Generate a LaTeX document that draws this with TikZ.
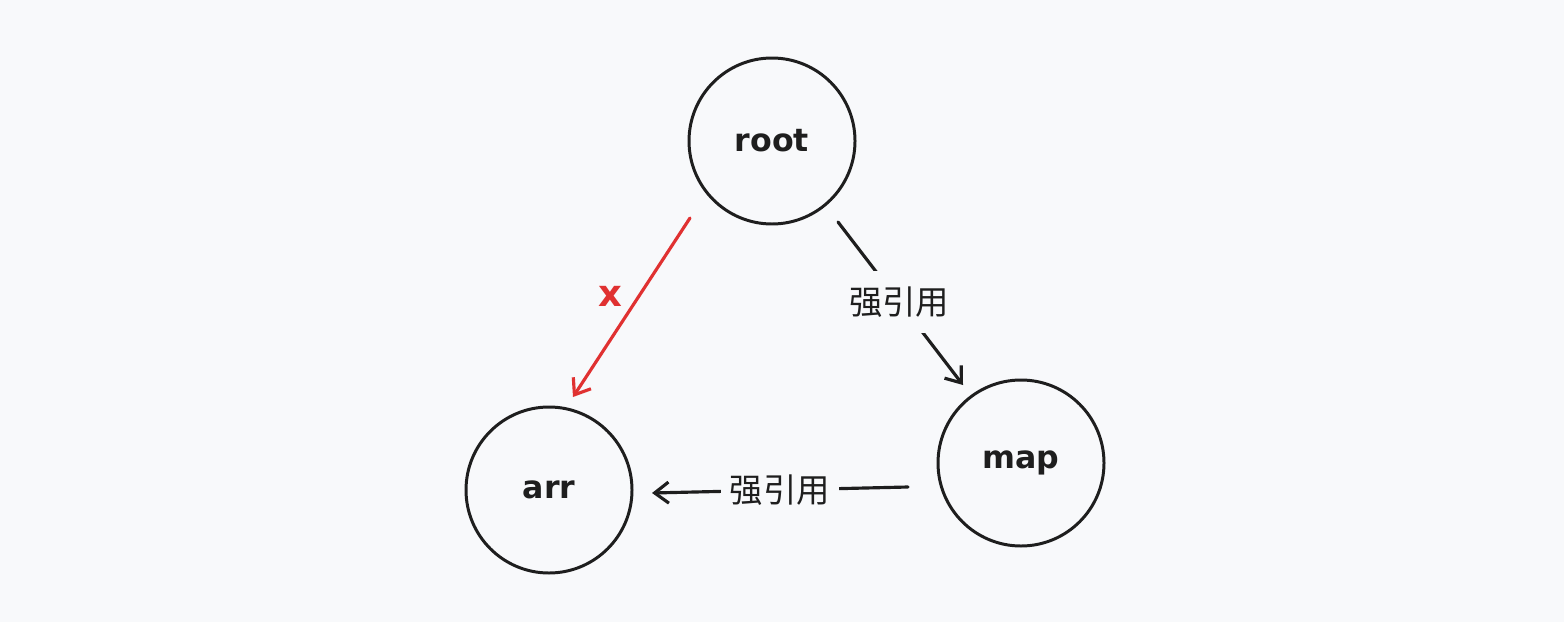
\documentclass[tikz,border=0pt]{standalone}
\usepackage{fontspec}
\setmainfont{DejaVu Sans}
\newfontfamily\cjk{Noto Sans CJK SC}
\usepackage{xcolor}
\usetikzlibrary{arrows.meta, positioning}

\definecolor{bgcol}{HTML}{F8F9FB}
\definecolor{inkcol}{HTML}{1E1E1E}
\definecolor{redcol}{HTML}{E03131}

\begin{document}
\begin{tikzpicture}[
  x=0.02cm, y=-0.02cm,
  obj/.style={circle, draw=inkcol, line width=1.7pt, minimum size=166*0.02cm, inner sep=0pt, font=\bfseries\fontsize{18}{20}\selectfont, text=inkcol},
  ref/.style={fill=bgcol, inner xsep=5pt, inner ysep=9pt, font=\cjk\fontsize{19}{21}\selectfont, text=inkcol},
  arrow/.style={-{Straight Barb[length=8pt, width=12pt, line width=1.8pt]}, line width=1.8pt, draw=inkcol, line cap=round},
  redarrow/.style={arrow, draw=redcol}
]

% background and page size
\fill[bgcol] (0,0) rectangle (1564,622);
\useasboundingbox (0,0) rectangle (1564,622);

% objects
\node[obj] (root) at (772,141) {root};
\node[obj] (arr) at (549,490) {arr};
\node[obj] (map) at (1021,463) {map};

% connector ends
\coordinate (rootL) at (690,218);
\coordinate (arrT) at (573,397);
\coordinate (rootR) at (838,222);
\coordinate (mapT) at (963,385);
\coordinate (mapL) at (908,487);
\coordinate (arrR) at (652,493);

% root -> arr (cut)
\draw[redarrow] (rootL) -- (arrT);
\node[text=redcol, font=\bfseries\fontsize{21}{22}\selectfont] (cut) at (610,296) {x};

% root -> map
\draw[arrow] (rootR) -- (mapT) node[ref, pos=0.49] (lab1) {强引用};

% map -> arr
\draw[arrow] (mapL) -- (arrR) node[ref, pos=0.50, inner ysep=4pt] (lab2) {强引用};

\end{tikzpicture}
\end{document}
